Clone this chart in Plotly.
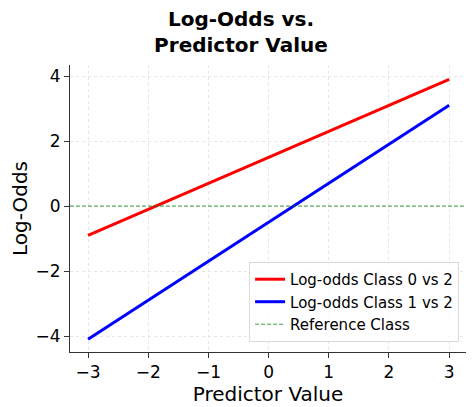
import plotly.graph_objects as go

x_vals = [-3, -2, -1, 0, 1, 2, 3]
class0_vs_2 = [-0.9, -0.1, 0.7, 1.5, 2.3, 3.1, 3.9]
class1_vs_2 = [-4.1, -2.9, -1.7, -0.5, 0.7, 1.9, 3.1]
ref_x = [-3.3, 3.28]
ref_y = [0, 0]
x_ticks = [-3, -2, -1, 0, 1, 2, 3]
y_ticks = [-4, -2, 0, 2, 4]
y_tick_labels = ["\u22124", "\u22122", "0", "2", "4"]

fig = go.Figure()
fig.add_trace(go.Scatter(x=x_vals, y=class0_vs_2, mode="lines", name="Log-odds Class 0 vs 2",
                         line=dict(color="#ff0000", width=3)))
fig.add_trace(go.Scatter(x=x_vals, y=class1_vs_2, mode="lines", name="Log-odds Class 1 vs 2",
                         line=dict(color="#0000ff", width=3)))
fig.add_trace(go.Scatter(x=ref_x, y=ref_y, mode="lines", name="Reference Class",
                         line=dict(color="rgba(0,128,0,0.75)", width=1, dash="4px,2px")))

# page body has an 8px margin, so the figure is shrunk/shifted by 8px
fig.update_layout(
    width=466, height=399,
    paper_bgcolor="white", plot_bgcolor="white",
    margin=dict(l=58, r=8, t=57, b=55),
    font=dict(family="DejaVu Sans", color="black"),
    title=dict(text="<b>Log-Odds vs.<br>Predictor Value</b>", x=0.5, xanchor="center",
               yref="container", y=1 - 18 / 399, yanchor="middle", font=dict(size=20)),
    showlegend=True,
    legend=dict(x=0.9825, y=0.035, xanchor="right", yanchor="bottom",
                bgcolor="rgba(255,255,255,0.8)", bordercolor="#d9d9d9", borderwidth=1,
                font=dict(size=15), tracegroupgap=0),
    xaxis=dict(range=[-3.3, 3.28], tickvals=x_ticks, tickfont=dict(size=17),
               title=dict(text="Predictor Value", font=dict(size=20), standoff=2),
               showline=True, linecolor="#333", linewidth=1, ticks="outside", ticklen=5,
               tickcolor="#333", showgrid=True, gridcolor="#e6e6e6", griddash="dot",
               zeroline=False),
    yaxis=dict(range=[-4.49, 4.34], tickvals=y_ticks, ticktext=y_tick_labels,
               tickfont=dict(size=17),
               title=dict(text="Log-Odds", font=dict(size=20), standoff=6),
               showline=True, linecolor="#333", linewidth=1, ticks="outside", ticklen=5,
               tickcolor="#333", showgrid=True, gridcolor="#e6e6e6", griddash="dot",
               zeroline=False),
)
fig.write_html("out.html")
